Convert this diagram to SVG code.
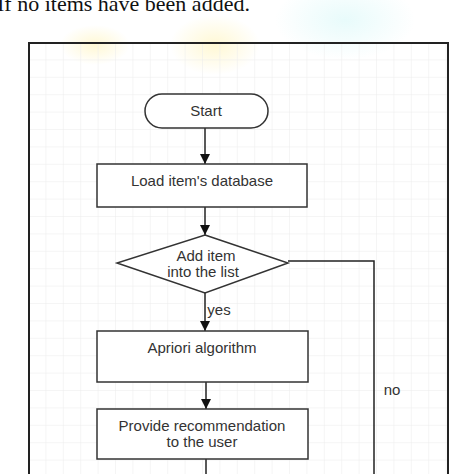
<svg xmlns="http://www.w3.org/2000/svg" width="474" height="474" viewBox="0 0 474 474">
<style>
.t{font-family:"Liberation Sans",Arial,sans-serif;font-size:15px;fill:#333;text-anchor:middle}
.box{fill:#fff;stroke:#333;stroke-width:1.5}
.ln{fill:none;stroke:#222;stroke-width:1.5}
</style>
<defs>
<pattern id="grid" x="29" y="43" width="17.4" height="17.4" patternUnits="userSpaceOnUse">
<path d="M17.4 0V17.4H0" fill="none" stroke="#ececec" stroke-width="1"/>
</pattern>
<marker id="ah" viewBox="0 0 10 10" refX="10" refY="5" markerWidth="10" markerHeight="10" markerUnits="userSpaceOnUse" orient="auto">
<path d="M0 0L10 5L0 10Z" fill="#111"/>
</marker>
<radialGradient id="yb"><stop offset="0" stop-color="#fff8d4"/><stop offset="1" stop-color="#fff8d4" stop-opacity="0"/></radialGradient>
<radialGradient id="cb"><stop offset="0" stop-color="#e8fbfb"/><stop offset="1" stop-color="#e8fbfb" stop-opacity="0"/></radialGradient>
</defs>
<rect width="474" height="474" fill="#fff"/>
<ellipse cx="215" cy="45" rx="45" ry="30" fill="url(#yb)"/>
<ellipse cx="95" cy="45" rx="35" ry="20" fill="url(#yb)"/>
<ellipse cx="345" cy="20" rx="70" ry="40" fill="url(#cb)"/>
<text x="-3" y="11" style="font-family:'Liberation Serif','Times New Roman',serif;font-size:22px;fill:#111">If no items have been added.</text>
<rect x="29" y="43" width="419" height="440" fill="url(#grid)" stroke="#222" stroke-width="2"/>
<g id="connectors">
<line class="ln" x1="205" y1="128" x2="205" y2="164" marker-end="url(#ah)"/>
<line class="ln" x1="205" y1="207" x2="205" y2="235" marker-end="url(#ah)"/>
<line class="ln" x1="205" y1="293" x2="205" y2="331" marker-end="url(#ah)"/>
<line class="ln" x1="206" y1="382" x2="206" y2="409" marker-end="url(#ah)"/>
<line class="ln" x1="206" y1="459" x2="206" y2="474"/>
<polyline class="ln" points="288,261 374,261 374,474"/>
<text class="t" x="219" y="315">yes</text>
<text class="t" x="392" y="395">no</text>
</g>
<g id="start">
<rect class="box" x="145" y="94" width="123" height="34" rx="17"/>
<text class="t" x="206" y="116">Start</text>
</g>
<g id="load">
<rect class="box" x="97" y="164" width="210" height="43"/>
<text class="t" x="202" y="186">Load item's database</text>
</g>
<g id="decision">
<polygon class="box" points="205,235 288,263 205,293 117,263"/>
<text class="t" x="206" y="261">Add item</text>
<text class="t" x="203" y="277">into the list</text>
</g>
<g id="apriori">
<rect class="box" x="97" y="331" width="211" height="51"/>
<text class="t" x="202" y="353">Apriori algorithm</text>
</g>
<g id="provide">
<rect class="box" x="97" y="409" width="211" height="50"/>
<text class="t" x="202" y="431">Provide recommendation</text>
<text class="t" x="202" y="447">to the user</text>
</g>
</svg>
